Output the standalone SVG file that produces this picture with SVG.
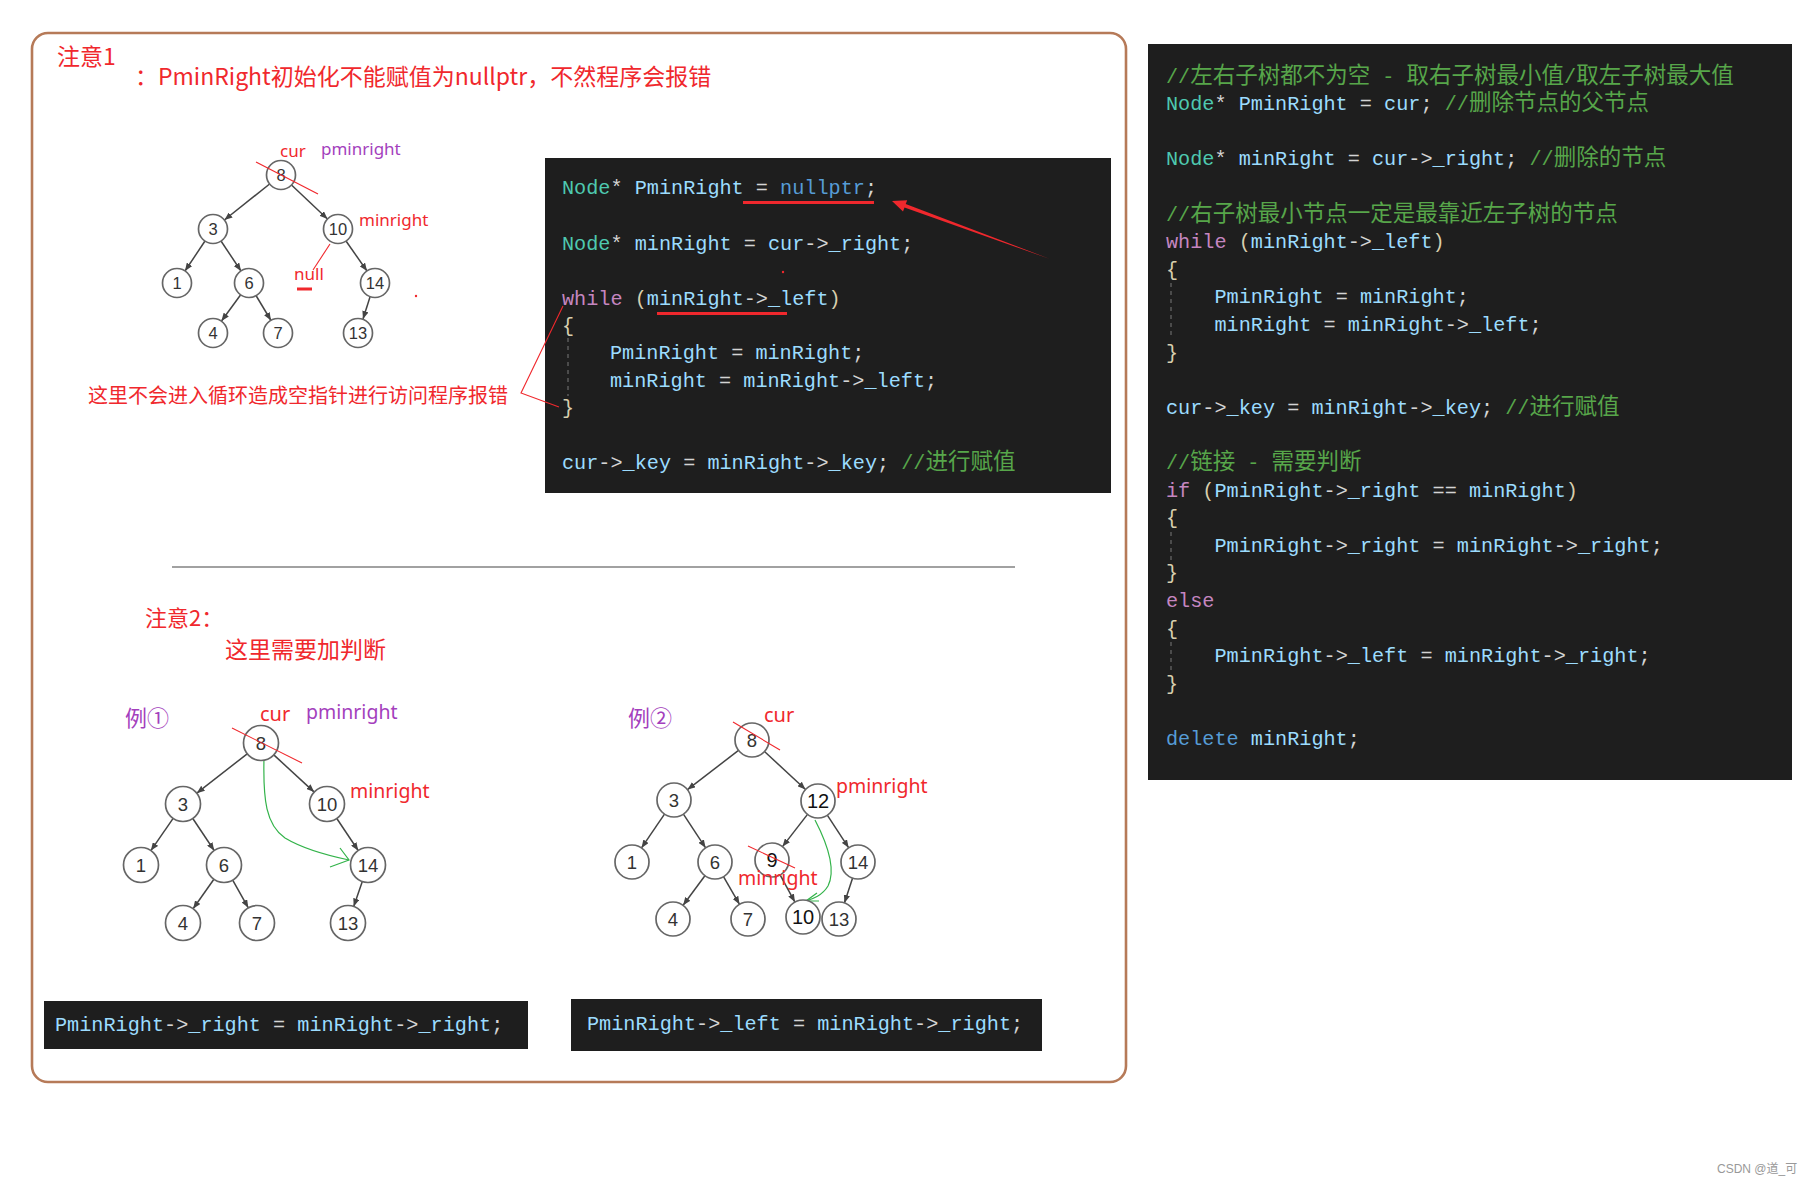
<svg xmlns="http://www.w3.org/2000/svg" width="1813" height="1184" viewBox="0 0 1813 1184">
<defs>
<marker id="ah" viewBox="0 0 10 8" refX="10" refY="4" markerWidth="8" markerHeight="6.4" markerUnits="userSpaceOnUse" orient="auto"><path d="M0,0 L10,4 L0,8 z" fill="#444"/></marker>
</defs>
<style>
.code{font-family:"Liberation Mono","Noto Sans CJK SC",monospace;font-size:20.2px;fill:#d4d4d4;stroke:currentColor;stroke-width:0}
.t{fill:#4ec9b0}.v{fill:#9cdcfe}.k{fill:#c586c0}.b{fill:#569cd6}.c{fill:#57a64a}.br{fill:#d8cfae}
.cj{font-family:"Noto Sans CJK SC",sans-serif;font-size:22.5px}
.red{fill:#f0282d;font-family:"Noto Sans CJK SC","Noto Sans",sans-serif}
.pur{fill:#a43fbd;font-family:"Noto Sans CJK SC","Noto Sans",sans-serif}
.lbl{font-family:"Noto Sans","Noto Sans CJK SC",sans-serif}
.node circle{fill:#fff;stroke:#666;stroke-width:1.7}
.node text{font-family:"Liberation Sans",sans-serif;text-anchor:middle;fill:#333}
.edge{stroke:#444;stroke-width:1.5;fill:none;marker-end:url(#ah)}
.rl{stroke:#f0282d;stroke-width:1.1;fill:none}
.gl{stroke:#33b34a;stroke-width:1.2;fill:none}
.guide{stroke:#6a6a6a;stroke-width:1.2;stroke-dasharray:4 4}
.dark{fill:#1e1e1e}
</style>
<rect width="1813" height="1184" fill="#fff"/>

<!-- outer frame -->
<rect x="32" y="33" width="1094" height="1049" rx="16" fill="none" stroke="#b67a58" stroke-width="2.6"/>

<!-- note 1 -->
<text class="red" x="57" y="65" font-size="23">注意1</text>
<text class="red" x="135" y="85" font-size="23">：PminRight初始化不能赋值为nullptr，不然程序会报错</text>
<text class="red" x="88" y="403" font-size="20">这里不会进入循环造成空指针进行访问程序报错</text>

<!-- code box 1 -->
<g id="code1">
<rect class="dark" x="545" y="158" width="566" height="335"/>
<line class="guide" x1="568" y1="338" x2="568" y2="396"/>
<g transform="translate(0,1.5)">
<text class="code" x="562" y="192"><tspan class="t">Node</tspan>* <tspan class="v">PminRight</tspan> = <tspan class="b">nullptr</tspan>;</text>
<text class="code" x="562" y="248"><tspan class="t">Node</tspan>* <tspan class="v">minRight</tspan> = <tspan class="v">cur</tspan>-&gt;<tspan class="v">_right</tspan>;</text>
<text class="code" x="562" y="303"><tspan class="k">while</tspan> <tspan class="br">(</tspan><tspan class="v">minRight</tspan>-&gt;<tspan class="v">_left</tspan><tspan class="br">)</tspan></text>
<text class="code br" x="562" y="330">{</text>
<text class="code" x="610" y="357"><tspan class="v">PminRight</tspan> = <tspan class="v">minRight</tspan>;</text>
<text class="code" x="610" y="385"><tspan class="v">minRight</tspan> = <tspan class="v">minRight</tspan>-&gt;<tspan class="v">_left</tspan>;</text>
<text class="code br" x="562" y="412">}</text>
<text class="code" x="562" y="467"><tspan class="v">cur</tspan>-&gt;<tspan class="v">_key</tspan> = <tspan class="v">minRight</tspan>-&gt;<tspan class="v">_key</tspan>; <tspan class="c">//<tspan class="cj">进行赋值</tspan></tspan></text>
</g>
<rect x="743" y="201" width="131" height="3" fill="#f0282d"/>
<rect x="657" y="312" width="130" height="3" fill="#f0282d"/>
<circle cx="783" cy="272" r="1.2" fill="#f0282d"/>
</g>

<!-- red annotations -->
<g id="annotations">
<polygon points="1050,259 905.7,204.1 907.2,200.2 892,201 903,211.4 904.5,207.5" fill="#f0282d"/>
<path class="rl" d="M563,306 L521,393 L559,407"/>
<circle cx="416" cy="296" r="1.2" fill="#f0282d"/>
</g>

<!-- divider -->
<line x1="172" y1="567" x2="1015" y2="567" stroke="#444" stroke-width="1.2"/>

<!-- note 2 -->
<text class="red" x="145" y="626" font-size="22">注意2：</text>
<text class="red" x="225" y="658" font-size="23">这里需要加判断</text>
<text class="pur" x="125" y="726" font-size="22">例①</text>
<text class="pur" x="628" y="726" font-size="22">例②</text>

<!-- connectors -->
<g id="connectors">
<line class="edge" x1="269.6" y1="184" x2="224.4" y2="220"/>
<line class="edge" x1="291.5" y1="185" x2="327.5" y2="219"/>
<line class="edge" x1="205" y1="241" x2="185" y2="271"/>
<line class="edge" x1="221" y1="241" x2="241" y2="271"/>
<line class="edge" x1="346" y1="241" x2="367" y2="271"/>
<line class="edge" x1="240.5" y1="295" x2="221.5" y2="321"/>
<line class="edge" x1="256" y1="295.5" x2="271" y2="320.5"/>
<line class="edge" x1="370" y1="297" x2="363" y2="319"/>
<line class="edge" x1="247.2" y1="753.8" x2="196.8" y2="793.2"/>
<line class="edge" x1="273.8" y1="754.9" x2="314.2" y2="792.1"/>
<line class="edge" x1="173.1" y1="818.4" x2="150.9" y2="850.6"/>
<line class="edge" x1="192.8" y1="818.5" x2="214.2" y2="850.5"/>
<line class="edge" x1="336.8" y1="818.5" x2="358.2" y2="850.5"/>
<line class="edge" x1="213.9" y1="879.3" x2="193.1" y2="908.7"/>
<line class="edge" x1="232.7" y1="880.2" x2="248.3" y2="907.8"/>
<line class="edge" x1="362.3" y1="881.5" x2="353.7" y2="906.5"/>
<line class="edge" x1="738.5" y1="750.4" x2="687.5" y2="789.6"/>
<line class="edge" x1="764.5" y1="751.5" x2="805.5" y2="789.5"/>
<line class="edge" x1="664.5" y1="814.1" x2="641.5" y2="847.9"/>
<line class="edge" x1="683.4" y1="814.2" x2="705.6" y2="847.8"/>
<line class="edge" x1="807.5" y1="814.4" x2="782.5" y2="846.6"/>
<line class="edge" x1="827.3" y1="815.2" x2="848.7" y2="847.8"/>
<line class="edge" x1="704.9" y1="875.7" x2="683.1" y2="905.3"/>
<line class="edge" x1="723.5" y1="876.7" x2="739.5" y2="904.3"/>
<line class="edge" x1="780.1" y1="874.9" x2="794.9" y2="902.1"/>
<line class="edge" x1="852.6" y1="878.1" x2="844.4" y2="902.9"/>
<path class="gl" d="M264,758 C263,800 266,825 285,838 C305,850 330,856 349,860"/>
<path class="gl" d="M340,848 L349,860 L330,867"/>
<path class="gl" d="M815,820 C828,845 836,870 828,886 C822,896 812,899 806,901"/>
<path class="gl" d="M817,893 L806,901 L819,901"/>
</g>

<!-- tree 1 nodes -->
<g id="t1-8" class="node"><circle cx="281" cy="175" r="14.5"/><text x="281" y="181" font-size="16.5">8</text></g>
<g id="t1-3" class="node"><circle cx="213" cy="229" r="14.5"/><text x="213" y="235" font-size="16.5">3</text></g>
<g id="t1-10" class="node"><circle cx="338" cy="229" r="14.5"/><text x="338" y="235" font-size="16.5">10</text></g>
<g id="t1-1" class="node"><circle cx="177" cy="283" r="14.5"/><text x="177" y="289" font-size="16.5">1</text></g>
<g id="t1-6" class="node"><circle cx="249" cy="283" r="14.5"/><text x="249" y="289" font-size="16.5">6</text></g>
<g id="t1-14" class="node"><circle cx="375" cy="283" r="14.5"/><text x="375" y="289" font-size="16.5">14</text></g>
<g id="t1-4" class="node"><circle cx="213" cy="333" r="14.5"/><text x="213" y="339" font-size="16.5">4</text></g>
<g id="t1-7" class="node"><circle cx="278" cy="333" r="14.5"/><text x="278" y="339" font-size="16.5">7</text></g>
<g id="t1-13" class="node"><circle cx="358" cy="333" r="14.5"/><text x="358" y="339" font-size="16.5">13</text></g>
<g id="t1-labels">
<text class="red lbl" x="280" y="157" font-size="17">cur</text>
<text class="pur lbl" x="321" y="155" font-size="17">pminright</text>
<text class="red lbl" x="359" y="226" font-size="17">minright</text>
<text class="red lbl" x="294" y="280" font-size="17">null</text>
<rect x="297" y="287.5" width="15" height="3" fill="#f0282d"/>
<line class="rl" x1="256" y1="162" x2="318" y2="194"/>
<line class="rl" x1="330" y1="244" x2="313" y2="270"/>
</g>

<!-- tree 2 nodes -->
<g id="t2-8" class="node"><circle cx="261" cy="743" r="17.5"/><text x="261" y="749.5" font-size="18.5">8</text></g>
<g id="t2-3" class="node"><circle cx="183" cy="804" r="17.5"/><text x="183" y="810.5" font-size="18.5">3</text></g>
<g id="t2-10" class="node"><circle cx="327" cy="804" r="17.5"/><text x="327" y="810.5" font-size="18.5">10</text></g>
<g id="t2-1" class="node"><circle cx="141" cy="865" r="17.5"/><text x="141" y="871.5" font-size="18.5">1</text></g>
<g id="t2-6" class="node"><circle cx="224" cy="865" r="17.5"/><text x="224" y="871.5" font-size="18.5">6</text></g>
<g id="t2-14" class="node"><circle cx="368" cy="865" r="17.5"/><text x="368" y="871.5" font-size="18.5">14</text></g>
<g id="t2-4" class="node"><circle cx="183" cy="923" r="17.5"/><text x="183" y="929.5" font-size="18.5">4</text></g>
<g id="t2-7" class="node"><circle cx="257" cy="923" r="17.5"/><text x="257" y="929.5" font-size="18.5">7</text></g>
<g id="t2-13" class="node"><circle cx="348" cy="923" r="17.5"/><text x="348" y="929.5" font-size="18.5">13</text></g>
<g id="t2-labels">
<text class="red lbl" x="260" y="721" font-size="20">cur</text>
<text class="pur lbl" x="306" y="719" font-size="19.5">pminright</text>
<text class="red lbl" x="350" y="798" font-size="19.5">minright</text>
<line class="rl" x1="232" y1="728" x2="302" y2="763"/>
</g>

<!-- tree 3 nodes -->
<g id="t3-8" class="node"><circle cx="752" cy="740" r="17"/><text x="752" y="746.5" font-size="18.5">8</text></g>
<g id="t3-3" class="node"><circle cx="674" cy="800" r="17"/><text x="674" y="806.5" font-size="18.5">3</text></g>
<g id="t3-12" class="node"><circle cx="818" cy="801" r="17"/><text x="818" y="808" font-size="20" style="fill:#111">12</text></g>
<g id="t3-1" class="node"><circle cx="632" cy="862" r="17"/><text x="632" y="868.5" font-size="18.5">1</text></g>
<g id="t3-6" class="node"><circle cx="715" cy="862" r="17"/><text x="715" y="868.5" font-size="18.5">6</text></g>
<g id="t3-9" class="node"><circle cx="772" cy="860" r="17"/><text x="772" y="867" font-size="20" style="fill:#111">9</text></g>
<g id="t3-14" class="node"><circle cx="858" cy="862" r="17"/><text x="858" y="868.5" font-size="18.5">14</text></g>
<g id="t3-4" class="node"><circle cx="673" cy="919" r="17"/><text x="673" y="925.5" font-size="18.5">4</text></g>
<g id="t3-7" class="node"><circle cx="748" cy="919" r="17"/><text x="748" y="925.5" font-size="18.5">7</text></g>
<g id="t3-10" class="node"><circle cx="803" cy="917" r="17"/><text x="803" y="924" font-size="20" style="fill:#111">10</text></g>
<g id="t3-13" class="node"><circle cx="839" cy="919" r="17"/><text x="839" y="925.5" font-size="18.5">13</text></g>
<g id="t3-labels">
<text class="red lbl" x="764" y="722" font-size="20">cur</text>
<text class="red lbl" x="836" y="793" font-size="19.5">pminright</text>
<text class="red lbl" x="738" y="885" font-size="19.5">minright</text>
<line class="rl" x1="733" y1="722" x2="780" y2="750"/>
<line class="rl" x1="748" y1="846" x2="795" y2="868"/>
</g>

<!-- bottom code boxes -->
<g id="code2">
<rect class="dark" x="44" y="1001" width="484" height="48"/>
<text class="code" x="55" y="1031"><tspan class="v">PminRight</tspan>-&gt;<tspan class="v">_right</tspan> = <tspan class="v">minRight</tspan>-&gt;<tspan class="v">_right</tspan>;</text>
</g>
<g id="code3">
<rect class="dark" x="571" y="999" width="471" height="52"/>
<text class="code" x="587" y="1030"><tspan class="v">PminRight</tspan>-&gt;<tspan class="v">_left</tspan> = <tspan class="v">minRight</tspan>-&gt;<tspan class="v">_right</tspan>;</text>
</g>

<!-- right code box -->
<g id="code-main">
<rect class="dark" x="1148" y="44" width="644" height="736"/>
<line class="guide" x1="1171" y1="283" x2="1171" y2="339"/>
<line class="guide" x1="1171" y1="532" x2="1171" y2="560"/>
<line class="guide" x1="1171" y1="642" x2="1171" y2="670"/>
<g transform="translate(0,2.5)">
<text class="code c" x="1166" y="80">//<tspan class="cj">左右子树都不为空</tspan> - <tspan class="cj">取右子树最小值</tspan>/<tspan class="cj">取左子树最大值</tspan></text>
<text class="code" x="1166" y="107.6"><tspan class="t">Node</tspan>* <tspan class="v">PminRight</tspan> = <tspan class="v">cur</tspan>; <tspan class="c">//<tspan class="cj">删除节点的父节点</tspan></tspan></text>
<text class="code" x="1166" y="162.8"><tspan class="t">Node</tspan>* <tspan class="v">minRight</tspan> = <tspan class="v">cur</tspan>-&gt;<tspan class="v">_right</tspan>; <tspan class="c">//<tspan class="cj">删除的节点</tspan></tspan></text>
<text class="code c" x="1166" y="218">//<tspan class="cj">右子树最小节点一定是最靠近左子树的节点</tspan></text>
<text class="code" x="1166" y="245.6"><tspan class="k">while</tspan> <tspan class="br">(</tspan><tspan class="v">minRight</tspan>-&gt;<tspan class="v">_left</tspan><tspan class="br">)</tspan></text>
<text class="code br" x="1166" y="273.2">{</text>
<text class="code" x="1214.5" y="300.8"><tspan class="v">PminRight</tspan> = <tspan class="v">minRight</tspan>;</text>
<text class="code" x="1214.5" y="328.4"><tspan class="v">minRight</tspan> = <tspan class="v">minRight</tspan>-&gt;<tspan class="v">_left</tspan>;</text>
<text class="code br" x="1166" y="356">}</text>
<text class="code" x="1166" y="411.2"><tspan class="v">cur</tspan>-&gt;<tspan class="v">_key</tspan> = <tspan class="v">minRight</tspan>-&gt;<tspan class="v">_key</tspan>; <tspan class="c">//<tspan class="cj">进行赋值</tspan></tspan></text>
<text class="code c" x="1166" y="466.4">//<tspan class="cj">链接</tspan> - <tspan class="cj">需要判断</tspan></text>
<text class="code" x="1166" y="494"><tspan class="k">if</tspan> <tspan class="br">(</tspan><tspan class="v">PminRight</tspan>-&gt;<tspan class="v">_right</tspan> == <tspan class="v">minRight</tspan><tspan class="br">)</tspan></text>
<text class="code br" x="1166" y="521.6">{</text>
<text class="code" x="1214.5" y="549.2"><tspan class="v">PminRight</tspan>-&gt;<tspan class="v">_right</tspan> = <tspan class="v">minRight</tspan>-&gt;<tspan class="v">_right</tspan>;</text>
<text class="code br" x="1166" y="576.8">}</text>
<text class="code k" x="1166" y="604.4">else</text>
<text class="code br" x="1166" y="632">{</text>
<text class="code" x="1214.5" y="659.6"><tspan class="v">PminRight</tspan>-&gt;<tspan class="v">_left</tspan> = <tspan class="v">minRight</tspan>-&gt;<tspan class="v">_right</tspan>;</text>
<text class="code br" x="1166" y="687.2">}</text>
<text class="code" x="1166" y="742.4"><tspan class="b">delete</tspan> <tspan class="v">minRight</tspan>;</text>
</g>
</g>

<text x="1717" y="1173" font-family="Liberation Sans,Noto Sans CJK SC,sans-serif" font-size="12" fill="#999">CSDN @道_可</text>
</svg>
